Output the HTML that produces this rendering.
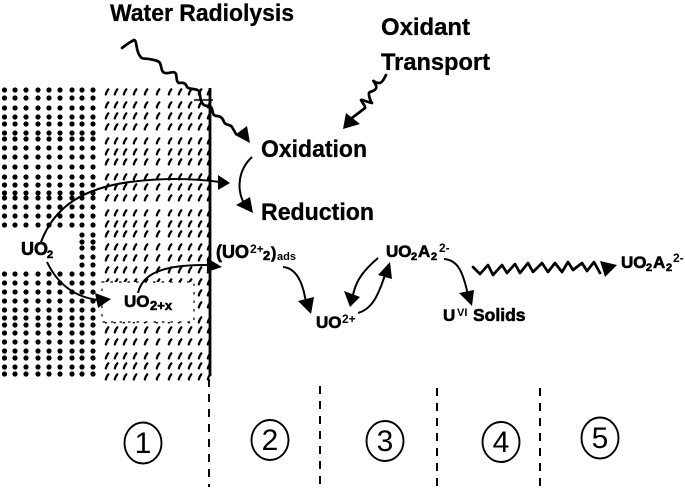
<!DOCTYPE html>
<html><head><meta charset="utf-8">
<style>
html,body{margin:0;padding:0;background:#fff}
svg{display:block;filter:blur(.35px)}
text{font-family:"Liberation Sans",sans-serif;font-weight:bold;fill:#000}
.c{font-weight:normal;font-size:30px;text-anchor:middle}
.l{stroke:#000;stroke-width:.6px}
.b{stroke:#000;stroke-width:.3px}
</style></head><body>
<svg width="685" height="492" viewBox="0 0 685 492" xmlns="http://www.w3.org/2000/svg">
<defs>
<g id="d" fill="#000">
<circle cx="4.5" cy="0" r="2.6"/><circle cx="15" cy="0" r="2.6"/><circle cx="26" cy="0" r="2.6"/><circle cx="38" cy="0" r="2.6"/><circle cx="49" cy="0" r="2.6"/><circle cx="60" cy="0" r="2.6"/><circle cx="72" cy="0" r="2.6"/><circle cx="82" cy="0" r="2.6"/><circle cx="93" cy="0" r="2.6"/>
</g>
<path id="s" d="M-1.2 2.4C-.8 .6 0-1.2 1.3-2.6" fill="none" stroke="#000" stroke-width="2.3" stroke-linecap="round"/>
<g id="r">
<use href="#s" x="107"/><use href="#s" x="116"/><use href="#s" x="125"/><use href="#s" x="135"/><use href="#s" x="146"/><use href="#s" x="158"/><use href="#s" x="170"/><use href="#s" x="180"/><use href="#s" x="190"/><use href="#s" x="200"/><use href="#s" x="209"/>
</g>
<g id="t"><circle cx="82" cy="0" r="2.6"/><circle cx="93" cy="0" r="2.6"/></g>
</defs>

<!-- dots -->
<use href="#d" y="90"/><use href="#d" y="98"/><use href="#d" y="108"/><use href="#d" y="117"/><use href="#d" y="124"/><use href="#d" y="133"/><use href="#d" y="139"/><use href="#d" y="148"/><use href="#d" y="157"/><use href="#d" y="167"/><use href="#d" y="177"/><use href="#d" y="185"/><use href="#d" y="193"/><use href="#d" y="198"/><use href="#d" y="207"/><use href="#d" y="216"/><use href="#d" y="225"/>
<use href="#t" y="235"/><use href="#t" y="242"/><use href="#t" y="248"/><use href="#t" y="257"/><use href="#t" y="265"/>
<use href="#d" y="274"/><use href="#d" y="283"/><use href="#d" y="292"/><use href="#d" y="301"/><use href="#d" y="310"/><use href="#d" y="318"/><use href="#d" y="325"/><use href="#d" y="333"/><use href="#d" y="342"/><use href="#d" y="351"/><use href="#d" y="358"/><use href="#d" y="367"/><use href="#d" y="374"/>

<!-- slashes -->
<use href="#r" y="92"/><use href="#r" y="105"/><use href="#r" y="116"/><use href="#r" y="127"/><use href="#r" y="141"/><use href="#r" y="152"/><use href="#r" y="162"/><use href="#r" y="177"/><use href="#r" y="187"/><use href="#r" y="198"/><use href="#r" y="213"/><use href="#r" y="224"/><use href="#r" y="234"/><use href="#r" y="247"/><use href="#r" y="258"/><use href="#r" y="270"/><use href="#r" y="282"/><use href="#r" y="293"/><use href="#r" y="305"/><use href="#r" y="320"/><use href="#r" y="330"/><use href="#r" y="342"/><use href="#r" y="356"/><use href="#r" y="366"/><use href="#r" y="377"/>

<!-- dotted box -->
<rect x="102" y="282" width="92" height="40" fill="#fff" stroke="#000" stroke-width="1.2" stroke-dasharray="2.5 6"/>

<!-- interface + dashed -->
<path d="M210 88V376" stroke="#000" stroke-width="2.8" fill="none"/>
<path d="M194 100H213" stroke="#000" stroke-width="1.6" fill="none"/>
<g stroke="#000" stroke-width="2" stroke-dasharray="8 7" fill="none">
<path d="M209 379V487"/><path d="M320 386V488"/><path d="M437 388V489"/><path d="M540 388V489"/>
</g>

<!-- wavy -->
<g fill="none" stroke="#000" stroke-width="2.7" stroke-linejoin="round" stroke-linecap="round">
<path d="M122 48Q130 42 134 40C137 40 136 52 140 56C142 60 146 58 149 59C153 60 158 60 160 63C162 68 161 72 165 73C169 74 174 70 176 74C177 78 176 83 180 83C184 82 186 84 187 87C190 90 196 88 199 91C201 95 199 101 204 105C207 107 211 105 212 109C213 113 213 116 217 116C221 116 223 119 224 122C226 126 230 124 232 127L236 134"/>
<path d="M386 75C384 79 382 83 379 83C375 83 372 79 374 82C378 87 377 90 370 92C367 93 371 102 372 103C370 103 361 99 361 100C362 102 366 107 365 108L352 118"/>
<polyline points="473,267 480,274 488,265 493,275 502,265 507,273 515,264 520,273 528,263 533,272 542,263 548,272 555,263 562,272 568,262 573,270 582,263 587,271 594,262 600,273"/>
</g>
<g fill="#000">
<polygon points="250,143 235,135 247,126"/>
<polygon points="343,129 346,113 360,124"/>
<polygon points="617,265 600,261 605,277"/>
</g>

<!-- curved arrows -->
<g fill="none" stroke="#000" stroke-width="2">
<path d="M41 242C55 205 85 188 130 182C160 178 190 178 220 182"/>
<path d="M47 262C58 285 75 297 98 300"/>
<path d="M138 293C142 275 160 264 210 265"/>
<path d="M283 267C296 268 303 282 306 303"/>
<path d="M378 258C364 270 356 280 353 295"/>
<path d="M358 313C372 309 378 296 385 275"/>
<path d="M444 259C458 260 463 272 468 295"/>
<path d="M252 157C238 170 236 190 245 205"/>
</g>
<g fill="#000">
<polygon points="230,183 218,175 218,190"/>
<polygon points="111,299 95,293 98,308"/>
<polygon points="222,267 207,258 207,272"/>
<polygon points="311,314 298,301 314,297"/>
<polygon points="350,307 344,291 360,297"/>
<polygon points="390,262 378,275 392,279"/>
<polygon points="472,306 459,293 474,290"/>
<polygon points="253,213 236,205 250,197"/>
</g>

<!-- big labels -->
<text class="b" x="110" y="21" font-size="24" textLength="184" lengthAdjust="spacingAndGlyphs">Water Radiolysis</text>
<text class="b" x="381" y="35" font-size="24" textLength="89" lengthAdjust="spacingAndGlyphs">Oxidant</text>
<text class="b" x="381" y="70" font-size="24" textLength="109" lengthAdjust="spacingAndGlyphs">Transport</text>
<text class="b" x="261" y="157" font-size="24" textLength="106" lengthAdjust="spacingAndGlyphs">Oxidation</text>
<text class="b" x="261" y="220" font-size="24" textLength="113" lengthAdjust="spacingAndGlyphs">Reduction</text>

<!-- chem labels -->
<text class="l" x="21" y="255" font-size="18">UO</text><text class="l" x="47" y="258" font-size="11">2</text>
<text class="l" x="124" y="307" font-size="17">UO</text><text class="l" x="150" y="310" font-size="13">2+x</text>
<text class="l" x="216" y="258" font-size="18">(UO</text><text x="250" y="253" font-size="12">2+</text><text class="l" x="263" y="260" font-size="13">2</text><text class="l" x="271" y="258" font-size="16">)</text><text x="277" y="260" font-size="11">ads</text>
<text class="l" x="316" y="328" font-size="17">UO</text><text x="342" y="323" font-size="12">2+</text>
<text class="l" x="386" y="257" font-size="17">UO</text><text class="l" x="411" y="260" font-size="11">2</text><text class="l" x="418" y="257" font-size="17">A</text><text class="l" x="431" y="260" font-size="11">2</text><text x="439" y="252" font-size="12">2-</text>
<text class="l" x="443" y="321" font-size="17">U</text><text x="457" y="316" font-size="11">VI</text><text class="l" x="473" y="321" font-size="17.5">Solids</text>
<text class="l" x="621" y="268" font-size="17">UO</text><text class="l" x="646" y="271" font-size="11">2</text><text class="l" x="653" y="268" font-size="17">A</text><text class="l" x="666" y="271" font-size="11">2</text><text x="673" y="262" font-size="12">2-</text>

<!-- circled numbers -->
<g fill="none" stroke="#000" stroke-width="1.9">
<ellipse cx="143" cy="443" rx="18.5" ry="20.5"/>
<ellipse cx="270" cy="440" rx="18.5" ry="20"/>
<ellipse cx="385" cy="441" rx="18.5" ry="20"/>
<ellipse cx="501" cy="442" rx="18.5" ry="20"/>
<ellipse cx="600" cy="438" rx="18.5" ry="20.5"/>
</g>
<text class="c" x="143" y="453">1</text>
<text class="c" x="270" y="450">2</text>
<text class="c" x="385" y="451">3</text>
<text class="c" x="501" y="452">4</text>
<text class="c" x="600" y="448">5</text>
</svg>
</body></html>
